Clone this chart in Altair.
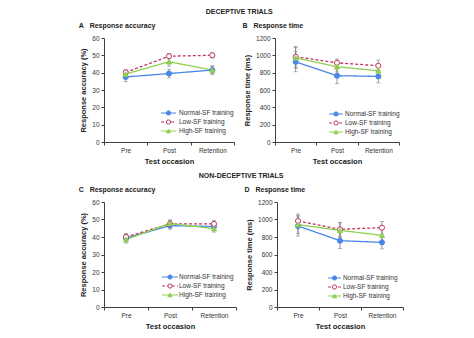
import altair as alt
import pandas as pd

occasions = ["Pre", "Post", "Retention"]
series_names = ["Normal-SF training", "Low-SF training", "High-SF training"]
line_colors = ["#4a86e8", "#c0395b", "#8fd14f"]
fill_colors = ["#4a86e8", "#ffffff", "#8fd14f"]
shapes = ["circle", "circle", "triangle-up"]
dashes = [[1, 0], [3, 2], [1, 0]]

# Deceptive trials - accuracy (%)
acc_dec = [[37.5, 39.5, 41.5], [40.2, 49.5, 50.0], [39.2, 46.3, 41.5]]
acc_dec_err = [[2.7, 2.5, 2.5], [1.5, 1.5, 1.5], [2.0, 2.5, 2.0]]
# Deceptive trials - response time (ms)
time_dec = [[925, 765, 757], [983, 914, 880], [971, 868, 822]]
time_dec_err = [[115, 90, 75], [120, 45, 65], [120, 60, 50]]
# Non-deceptive trials - accuracy (%)
acc_non = [[39.4, 46.5, 46.0], [40.0, 47.5, 47.5], [38.5, 47.8, 44.8]]
acc_non_err = [[2.0, 2.0, 2.0], [2.0, 2.0, 2.0], [2.0, 2.0, 2.0]]
# Non-deceptive trials - response time (ms)
time_non = [[926, 758, 739], [983, 888, 907], [941, 876, 819]]
time_non_err = [[115, 90, 75], [80, 80, 70], [100, 85, 70]]

acc_ticks = [0, 10, 20, 30, 40, 50, 60]
time_ticks = [0, 200, 400, 600, 800, 1000, 1200]

FONT = "Liberation Sans"
AX = "#404040"


def panel_df(vals, errs):
    rows = []
    for s, v, e in zip(series_names, vals, errs):
        for o, vv, ee in zip(occasions, v, e):
            rows.append(dict(occasion=o, series=s, value=vv, lo=vv - ee, hi=vv + ee))
    return pd.DataFrame(rows)


def legend_layers(x0, x1, xt, y0, dy):
    layers = []
    for i, s in enumerate(series_names):
        d = pd.DataFrame({"label": [s]})
        yv = y0 + i * dy
        layers.append(alt.Chart(d).mark_rule(color=line_colors[i], strokeWidth=1.2,
                                             strokeDash=dashes[i]).encode(
            x=alt.value(x0), x2=alt.value(x1), y=alt.value(yv)))
        layers.append(alt.Chart(d).mark_point(shape=shapes[i], size=18, opacity=1,
                                              stroke=line_colors[i], fill=fill_colors[i],
                                              strokeWidth=1).encode(
            x=alt.value((x0 + x1) / 2), y=alt.value(yv)))
        layers.append(alt.Chart(d).mark_text(align="left", baseline="middle", fontSize=6.5,
                                             font=FONT, color="#333333").encode(
            x=alt.value(xt), y=alt.value(yv), text="label:N"))
    return layers


def panel(df, title, ytitle, ymax, ticks, width, height, leg):
    x = alt.X("occasion:N", sort=occasions,
              scale=alt.Scale(domain=occasions, paddingInner=0, paddingOuter=0),
              axis=alt.Axis(title="Test occasion", labelAngle=0, tickBand="extent"))
    ys = alt.Scale(domain=[0, ymax], nice=False)
    yax = alt.Axis(title=ytitle, values=ticks, format="d", labelOverlap=False)
    base = alt.Chart(df)
    lines = base.mark_line(strokeWidth=1.3).encode(
        x=x, y=alt.Y("value:Q", scale=ys, axis=yax),
        color=alt.Color("series:N", scale=alt.Scale(domain=series_names, range=line_colors), legend=None),
        strokeDash=alt.StrokeDash("series:N", scale=alt.Scale(domain=series_names, range=dashes), legend=None),
    )
    bars = base.mark_rule(color="#7f7f7f", strokeWidth=0.8).encode(
        x=x, y=alt.Y("lo:Q", scale=ys, axis=yax), y2="hi:Q")
    cap_lo = base.mark_tick(color="#7f7f7f", size=4, thickness=0.8).encode(
        x=x, y=alt.Y("lo:Q", scale=ys, axis=yax))
    cap_hi = base.mark_tick(color="#7f7f7f", size=4, thickness=0.8).encode(
        x=x, y=alt.Y("hi:Q", scale=ys, axis=yax))
    pts = base.mark_point(size=26, opacity=1, strokeWidth=1).encode(
        x=x, y=alt.Y("value:Q", scale=ys, axis=yax),
        shape=alt.Shape("series:N", scale=alt.Scale(domain=series_names, range=shapes), legend=None),
        stroke=alt.Stroke("series:N", scale=alt.Scale(domain=series_names, range=line_colors), legend=None),
        fill=alt.Fill("series:N", scale=alt.Scale(domain=series_names, range=fill_colors), legend=None),
    )
    layers = [lines, bars, cap_lo, cap_hi, pts] + legend_layers(*leg)
    return alt.layer(*layers).properties(
        width=width, height=height,
        title=alt.TitleParams(title, anchor="start", fontSize=7, fontWeight="bold", font=FONT,
                              color="#222222", offset=6, dx=-1),
    )


A = panel(panel_df(acc_dec, acc_dec_err), "A\u00a0\u00a0\u00a0Response accuracy",
          "Response accuracy (%)", 60, acc_ticks, 130, 104, (57, 72, 75, 75, 9))
B = panel(panel_df(time_dec, time_dec_err), "B\u00a0\u00a0\u00a0Response time",
          "Response time (ms)", 1200, time_ticks, 124, 104, (54, 68, 70, 76, 9))
C = panel(panel_df(acc_non, acc_non_err), "C\u00a0\u00a0\u00a0Response accuracy",
          "Response accuracy (%)", 60, acc_ticks, 132, 105, (58, 74, 75, 75, 9))
D = panel(panel_df(time_non, time_non_err), "D\u00a0\u00a0\u00a0Response time",
          "Response time (ms)", 1200, time_ticks, 126, 105, (51, 64, 66, 76, 9))

row_title = dict(anchor="middle", fontSize=7, fontWeight="bold", font=FONT, color="#222222", offset=7)
row1 = alt.hconcat(A, B, spacing=7, title=alt.TitleParams("DECEPTIVE TRIALS", **row_title))
row2 = alt.hconcat(C, D, spacing=7, title=alt.TitleParams("NON-DECEPTIVE TRIALS", **row_title))

chart = alt.vconcat(row1, row2, spacing=7).properties(
    padding={"left": 78, "top": 8, "right": 5, "bottom": 5}
).configure_view(stroke=None).configure_axis(
    domainColor=AX, tickColor=AX, tickSize=3, domainWidth=1, grid=False,
    labelFont=FONT, labelFontSize=6.5, labelColor="#333333",
    titleFont=FONT, titleFontSize=7.5, titleFontWeight="bold", titleColor="#222222",
    labelPadding=2, titlePadding=4,
).configure_concat(spacing=5)

chart.save("out.html", embed_options={"renderer": "svg", "actions": False})
